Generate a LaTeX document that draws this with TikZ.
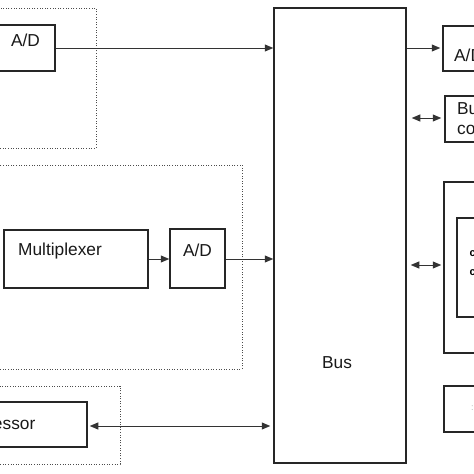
\documentclass[tikz,border=0pt]{standalone}
\usepackage{fontspec}
\setmainfont{Liberation Sans}
\usetikzlibrary{arrows.meta}
\begin{document}
\begin{tikzpicture}[x=1pt,y=-1pt,
  box/.style={draw=black!85,line width=1.5pt,inner sep=0pt,fill=white},
  group/.style={draw=black!70,line width=1pt,dash pattern=on 1pt off 1.6pt,inner sep=0pt},
  lbl/.style={inner sep=0pt,font=\fontsize{17.3}{20}\selectfont,text=black!90},
  link/.style={draw=black!80,line width=0.9pt},
  tip/.style={-{Triangle[length=8.5pt,width=7pt]}},
  dtip/.style={{Triangle[length=8.5pt,width=7pt]}-{Triangle[length=8.5pt,width=7pt]}}]
\useasboundingbox (0,0) rectangle (474,474);
\clip (0,0) rectangle (474,474);
\fill[white] (0,0) rectangle (474,474);

% dotted grouping frames
\node[group,minimum width=101pt,minimum height=140pt] (gtop) at (45.5,78) {};
\node[group,minimum width=247pt,minimum height=204pt] (gmid) at (118.5,267) {};
\node[group,minimum width=125pt,minimum height=78pt] (gbot) at (57.5,425) {};

% central bus
\node[box,minimum width=132pt,minimum height=455pt] (bus) at (340,235.5) {};
\node[lbl] (bustxt) at (337,363) {Bus};

% left side blocks
\node[box,minimum width=60pt,minimum height=46pt] (ad1) at (25,48) {};
\node[lbl] (ad1txt) at (25.5,40) {A/D};
\node[box,minimum width=144pt,minimum height=58pt] (mux) at (76,259) {};
\node[lbl,anchor=west] (muxtxt) at (18,251) {Multiplexer};
\node[box,minimum width=55pt,minimum height=59pt] (ad2) at (197.5,258.5) {};
\node[lbl] (ad2txt) at (197.5,250) {A/D};
\node[box,minimum width=92pt,minimum height=45pt] (proc) at (41,424.5) {};
\node[lbl,anchor=east] (proctxt) at (35.5,424) {Processor};

% right side blocks
\node[box,minimum width=47pt,minimum height=45pt] (ad3) at (466.5,48.5) {};
\node[lbl,anchor=west] (ad3txt) at (454,55) {A/D};
\node[box,minimum width=45pt,minimum height=46pt] (busc) at (467.5,119) {};
\node[lbl,anchor=west,align=left] (busctxt) at (457,119) {Bus\\controller};
\node[box,minimum width=46pt,minimum height=171pt] (big) at (467,267.5) {};
\node[box,minimum width=33pt,minimum height=99pt] (inner) at (473.5,267.5) {};
\node[inner sep=0pt,anchor=west,align=left,font=\bfseries\fontsize{11}{19}\selectfont] (innertxt) at (469.5,263.5) {co\\co};
\node[box,minimum width=46pt,minimum height=46pt] (bot) at (467,409) {};
\node[inner sep=0pt,anchor=west,text=black!30,font=\fontsize{9}{10}\selectfont] (bottxt) at (471,408) {:};

% connectors
\draw[link,tip] (ad1.east) -- (ad1.east -| bus.west);
\draw[link,tip] (mux.east |- 0,259) -- (ad2.west |- 0,259);
\draw[link,tip] (ad2.east |- 0,259) -- (bus.west |- 0,259);
\draw[link,dtip,shorten <=2pt,shorten >=3pt] (proc.east |- 0,426) -- (bus.west |- 0,426);
\draw[link,tip,shorten >=2pt] (bus.east |- 0,48) -- (ad3.west |- 0,48);
\draw[link,dtip,shorten <=5pt,shorten >=3pt] (bus.east |- 0,118) -- (busc.west |- 0,118);
\draw[link,dtip,shorten <=4pt,shorten >=2pt] (bus.east |- 0,265) -- (big.west |- 0,265);
\end{tikzpicture}
\end{document}
